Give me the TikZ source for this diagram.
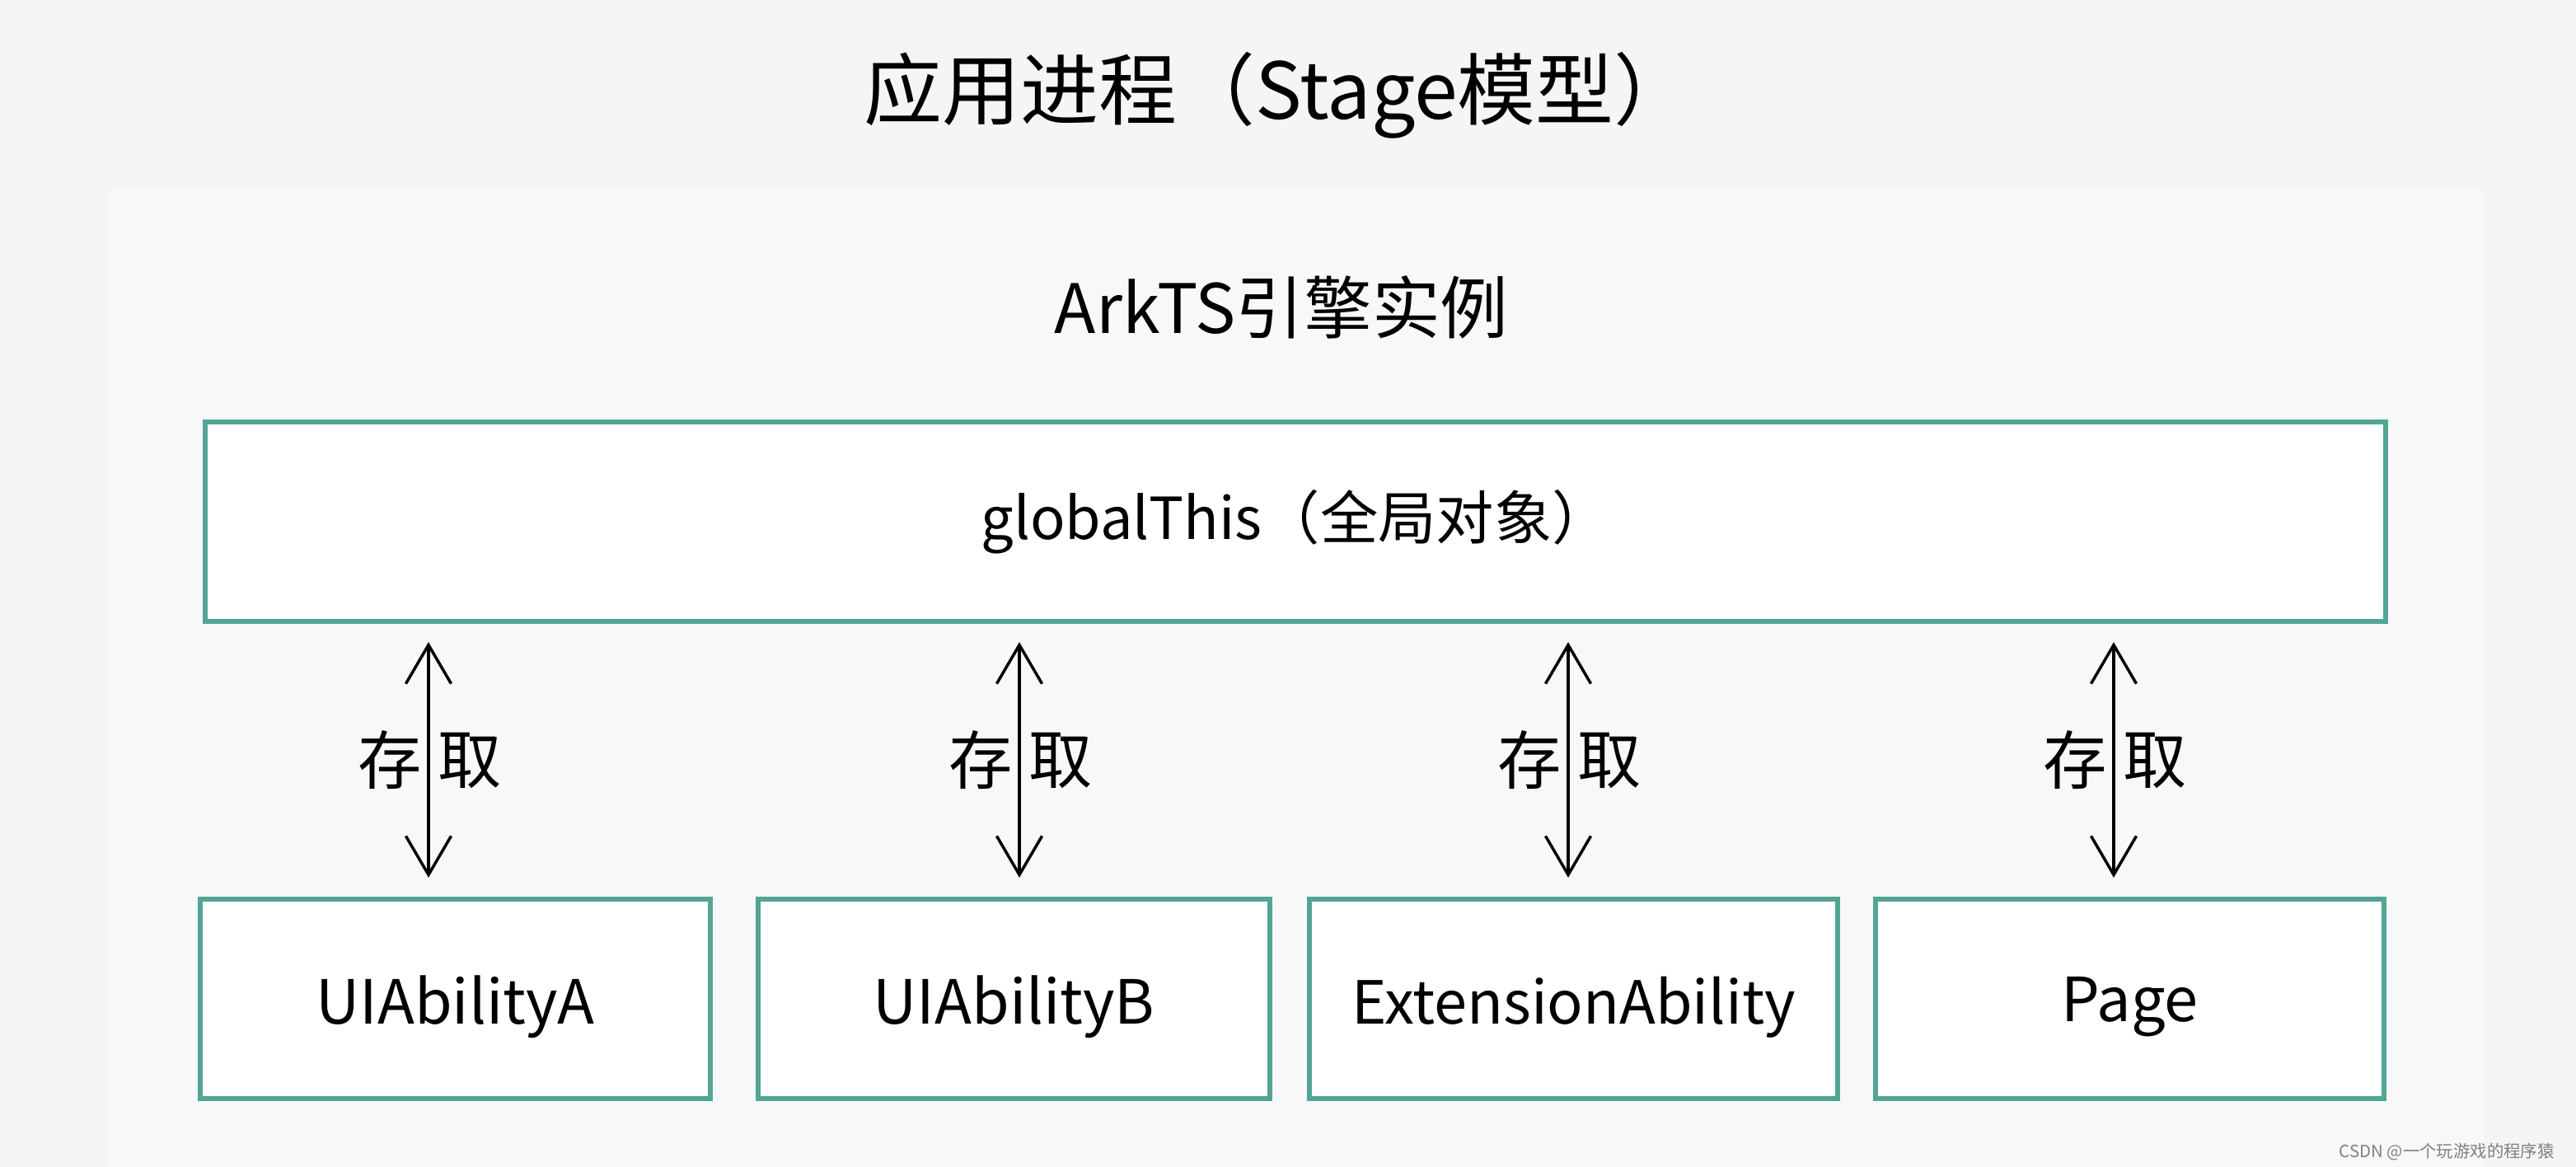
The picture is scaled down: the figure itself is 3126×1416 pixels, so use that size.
\documentclass[tikz,border=0pt]{standalone}
\usepackage{fontspec}
\setmainfont{Noto Sans CJK SC}
\usetikzlibrary{arrows.meta}
\definecolor{boxgreen}{HTML}{52A593}
\definecolor{outerbg}{HTML}{F5F5F5}
\definecolor{innerbg}{HTML}{F7F9F8}
\newcommand{\lowered}[1]{\raisebox{-0.1cm}[\height][\depth]{#1}}
\begin{document}
\begin{tikzpicture}[x=0.01cm,y=-0.01cm,
	box/.style={draw=boxgreen,line width=0.06cm,fill=white,minimum height=2.42cm,inner sep=0pt,font=\fontsize{21}{25}\selectfont},
	acc/.style={<->,>={Straight Barb[length=0.47cm,width=0.55cm]},line width=1pt,shorten <=0.22cm,shorten >=0.23cm},
	lbl/.style={inner sep=0pt,font=\fontsize{22}{26}\selectfont}]
			\fill[outerbg] (0,0) rectangle (3126,1416);
			\fill[innerbg] (130,230) rectangle (3013,1416);
			\useasboundingbox (0,0) rectangle (3126,1416);
			\node (title) at (1551,116) {\fontsize{27}{32}\selectfont 应用进程（Stage模型）};
			\node (engine) at (1555,373) {\fontsize{23.5}{28}\selectfont ArkTS引擎实例};
			\node[box,minimum width=26.44cm,font=\fontsize{20}{24}\selectfont] (glob) at (1572,633) {globalThis（全局对象）};
			\node[box,minimum width=6.19cm] (ua) at (552.5,1212) {\lowered{UIAbilityA}};
			\node[box,minimum width=6.21cm] (ub) at (1230.5,1212) {\lowered{UIAbilityB}};
			\node[box,minimum width=6.41cm,font=\fontsize{20.5}{24}\selectfont] (ext) at (1909.5,1212) {\lowered{ExtensionAbility}};
			\node[box,minimum width=6.17cm] (page) at (2584.5,1212) {\lowered{Page}};
			\foreach \b/\s in {ua/-0.325cm,ub/0.065cm,ext/-0.065cm,page/-0.195cm}
				\draw[acc] ([xshift=\s]\b.north |- glob.south) -- ([xshift=\s]\b.north)
					node[lbl,midway,left=0.06cm] {存} node[lbl,midway,right=0.1cm] {取};
			\node[anchor=east,text=gray,font=\fontsize{5.8}{7}\selectfont] (mark) at (3112,1398) {CSDN @一个玩游戏的程序猿};
\end{tikzpicture}
\end{document}
